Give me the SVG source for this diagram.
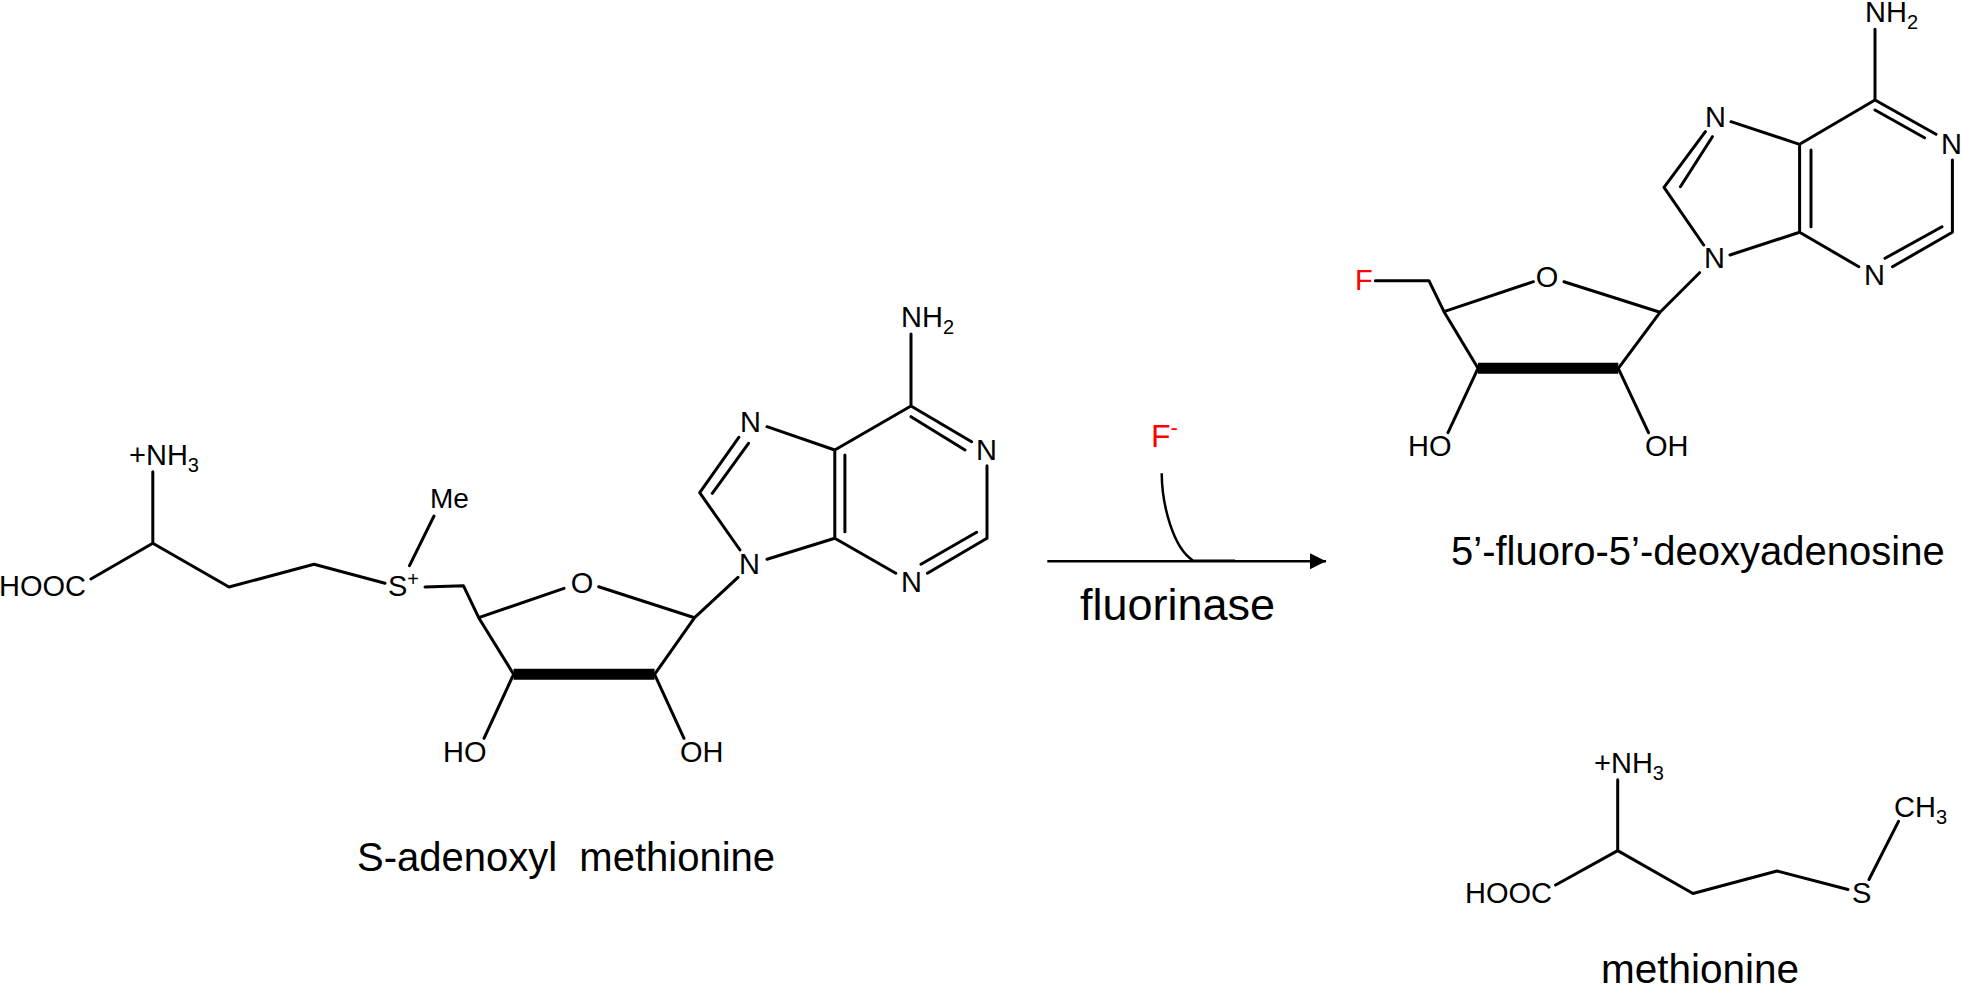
<svg xmlns="http://www.w3.org/2000/svg" width="1961" height="986" viewBox="0 0 1961 986">
<style>
text{font-family:"Liberation Sans",Arial,sans-serif;fill:#000}
.a{font-size:29px}
.l{font-size:40px}
.red{fill:#f00}
.b{fill:none;stroke:#000;stroke-width:3;stroke-linecap:round;stroke-linejoin:round}
.w{fill:none;stroke:#000;stroke-width:11}
.c{fill:none;stroke:#000;stroke-width:2.5}
</style>
<defs>
<marker id="head" markerUnits="userSpaceOnUse" markerWidth="18" markerHeight="18" refX="16" refY="8" orient="auto"><path d="M0 0L16 8L0 16Z" fill="#000"/></marker>
</defs>
<rect width="1961" height="986" fill="#fff"/>
<g id="sam">
<path class="b" d="M152.800 471.700V543.300L90.900 579M152.800 543.300L229 587L314 564.300L385 583.300M409.500 565.700L434 516M425 587L463.400 585.700L478.700 617.700L564 588.300M598.700 586.700L694.600 617.700L654.600 674.300M478.700 617.700L513.600 674.300L484 738.300M654.600 674.300L684 738.300M694.600 617.700L738 577.300M740 550L699.700 492.700L738.800 437.300M712.300 493.300L748.500 443.300M767 426.700L834.800 450V538.300L767 559.300M844.900 455V531.700M834.800 538.300L895.800 573.300M927.400 573.300L987 538.300V465.700M921 564.300L976.600 532.300M971.600 441.700L911 406L834.800 450M965 450L911 416.700M911 406V334"/>
<path class="w" d="M513.600 674.300H654.600"/>
<text class="a" x="129" y="464.500">+NH<tspan font-size="20" dy="7">3</tspan></text>
<text class="a" x="-1" y="596">HOOC</text>
<text class="a" x="388" y="596">S<tspan font-size="20" dy="-10">+</tspan></text>
<text x="430" y="508" font-size="28">Me</text>
<text class="a" x="582" y="593" text-anchor="middle">O</text>
<text class="a" x="443" y="762">HO</text>
<text class="a" x="680" y="762">OH</text>
<text class="a" x="739" y="574">N</text>
<text class="a" x="740" y="432">N</text>
<text class="a" x="901" y="592">N</text>
<text class="a" x="976" y="460">N</text>
<text class="a" x="901" y="327">NH<tspan font-size="20" dy="7">2</tspan></text>
<text class="l" x="357" y="871" xml:space="preserve">S-adenoxyl  methionine</text>
</g>
<g id="fda">
<path class="b" d="M1875 29.300V100L1936 134.300M1875 110L1924.500 137.700M1952.400 160V232.300L1892.500 266.700M1942 226.700L1885 258.300M1799.600 232.300L1858.800 266.700M1875 100L1799.600 144.300V232.300L1730 255M1811 150V226.700M1731 121.700L1799.600 144.300M1705.400 131.700L1664 187.300L1703.700 245M1680.400 186.700L1712.400 136.700M1699.600 272.700L1660 312.300L1564 281.700M1660 312.300L1618.300 368.300L1648.500 432.700M1533.400 281.700L1444 311.700L1428.900 280.700H1375.400M1444 311.700L1478 368.300L1448 432.700"/>
<path class="w" d="M1478 368.300H1618.300"/>
<text class="a" x="1865" y="22">NH<tspan font-size="20" dy="7">2</tspan></text>
<text class="a" x="1941" y="154">N</text>
<text class="a" x="1864" y="285">N</text>
<text class="a" x="1705" y="127">N</text>
<text class="a" x="1704" y="268">N</text>
<text class="a" x="1547" y="287" text-anchor="middle">O</text>
<text class="a red" x="1355" y="290">F</text>
<text class="a" x="1408" y="456">HO</text>
<text class="a" x="1645" y="456">OH</text>
<text class="l" x="1451" y="565">5’-fluoro-5’-deoxyadenosine</text>
</g>
<g id="met">
<path class="b" d="M1617.700 779.800V850.600L1555.600 885M1617.700 850.600L1693 893.500L1777 871L1848 889.500M1869 879.500L1898.500 821.400"/>
<text class="a" x="1594" y="773">+NH<tspan font-size="20" dy="7">3</tspan></text>
<text class="a" x="1465" y="903">HOOC</text>
<text class="a" x="1852" y="903">S</text>
<text class="a" x="1894" y="817">CH<tspan font-size="20" dy="7">3</tspan></text>
<text x="1601" y="983" font-size="40.500">methionine</text>
</g>
<g id="fluoride">
<text class="red" x="1151" y="447" font-size="32">F<tspan font-size="22" dy="-12">-</tspan></text>
</g>
<g id="enzyme">
<text x="1080" y="620" font-size="45">fluorinase</text>
</g>
<g id="connectors">
<path class="c" d="M1047.300 561.300H1326" marker-end="url(#head)"/>
<path class="c" d="M1161.700 473.300C1162 505 1173 548 1193.300 560.700H1235"/>
</g>
</svg>
